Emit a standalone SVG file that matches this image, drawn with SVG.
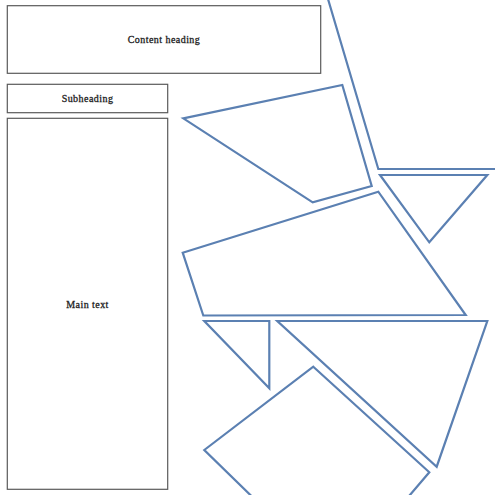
<svg xmlns="http://www.w3.org/2000/svg" width="495" height="495" viewBox="0 0 495 495">
<style>
.box{fill:#fff;stroke:#5a5a5a;stroke-width:1.2}
.lbl{font-family:"Liberation Serif",serif;font-size:10px;letter-spacing:0.45px;fill:#222;stroke:#222;stroke-width:0.3;text-anchor:middle}
.shp{fill:#fff;stroke:#5b80b2;stroke-width:2.2;stroke-linejoin:miter}
.ln{fill:none;stroke:#5b80b2;stroke-width:2.2}
</style>
<rect width="495" height="495" fill="#fff"/>
<g id="content-heading"><rect class="box" x="7.3" y="5.7" width="313.4" height="67.6"/><text class="lbl" x="164" y="43">Content heading</text></g>
<g id="subheading"><rect class="box" x="7.3" y="84.3" width="160.4" height="28.4"/><text class="lbl" x="87.5" y="102">Subheading</text></g>
<g id="main-text"><rect class="box" x="7.3" y="118.3" width="160.4" height="371"/><text class="lbl" x="87.5" y="307.5">Main text</text></g>
<g id="connectors"><polyline class="ln" points="328,-1 378.3,169 496,169"/></g>
<g id="quad1"><polygon class="shp" points="183.3,118.3 342.3,85 371.7,186 312.7,202.3"/></g>
<g id="tri-right"><polygon class="shp" points="380,175 487.3,175 429.3,242.3"/></g>
<g id="quad2"><polygon class="shp" points="182.7,252.7 378.3,191.7 465.7,315 203.3,315.5"/></g>
<g id="tri-small"><polygon class="shp" points="204.3,321 269.3,321 269.3,388.3"/></g>
<g id="tri-big"><polygon class="shp" points="277.3,321 487.3,321 436.7,466.7"/></g>
<g id="quad3"><polygon class="shp" points="313.3,366.7 429.3,472.3 337.4,580 204.3,450"/></g>
</svg>
